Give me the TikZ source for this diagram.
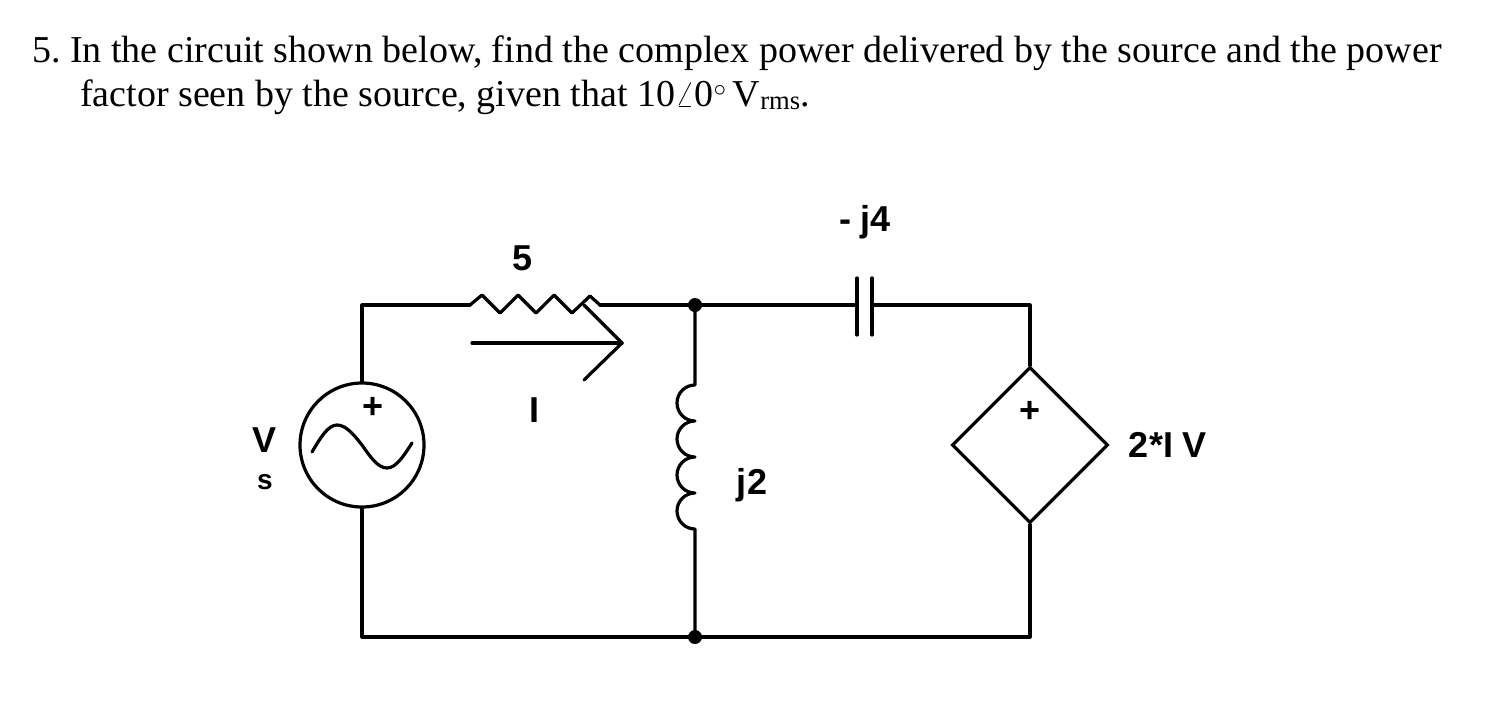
\documentclass[tikz,border=0pt]{standalone}
\usepackage{fontspec}
\usetikzlibrary{shapes.geometric}
\setmainfont{Liberation Serif}
\newfontfamily\lab{Liberation Sans}
\begin{document}
\begin{tikzpicture}[x=1pt,y=-1pt,
  w/.style={line width=3.2pt,line join=round,line cap=round},
  lbl/.style={font=\lab\bfseries\fontsize{36}{38}\selectfont,inner sep=0pt},
  ttl/.style={font=\fontsize{38}{42}\selectfont,inner sep=0pt,anchor=base west}]
\useasboundingbox (0,0) rectangle (1502,724);
\node[ttl] (t1) at (32,62) {5.\ In the circuit shown below, find the complex power delivered by the source and the power};
\node[ttl] (t2) at (80,106) {factor seen by the source, given that 10$\angle$0$^\circ$\,V$_{\mathrm{rms}}$.};
% coordinates
\coordinate (tl) at (362,305);
\coordinate (bl) at (362,637);
\coordinate (ra) at (470,305);
\coordinate (rb) at (600,305);
\coordinate (n1) at (695,305);
\coordinate (n2) at (695,637);
\coordinate (ca) at (857,305);
\coordinate (cb) at (872,305);
\coordinate (tr) at (1030,305);
\coordinate (br) at (1030,637);
\coordinate (la) at (695,385);
\coordinate (lb) at (695,529);
% source
\node[draw,circle,line width=3.2pt,minimum size=124pt,inner sep=0pt] (vs) at (362,445) {};
\draw[w] (312,452) sin (337,425) cos (362,445) sin (387,468) cos (412,443);
% dependent source
\node[draw,diamond,line width=3.2pt,minimum size=156pt,inner sep=0pt,aspect=1] (dep) at (1030,445) {};
% wires
\draw[w] (vs.north) -- (tl) -- (ra);
\draw[w] (ra) -- (482,295) -- (500,313) -- (518,295) -- (536,313) -- (554,295) -- (572,313) -- (590,296) -- (rb);
\draw[w] (rb) -- (n1) -- (ca);
\draw[w] (ca) ++(0,-27) -- ++(0,57);
\draw[w] (cb) ++(0,-27) -- ++(0,57);
\draw[w] (cb) -- (tr) -- (dep.north);
\draw[w] (dep.south) -- (br) -- (bl) -- (vs.south);
\draw[w] (n1) -- (la) arc(270:90:18) arc(270:90:18) arc(270:90:18) arc(270:90:18) -- (n2);
\fill (n1) circle (7);
\fill (n2) circle (7);
% current arrow
\draw[w] (472,343) -- (622,343);
\draw[w] (584,305) -- (622,343) -- (584,380);
% labels
\node[lbl] (l5) at (523,258) {5};
\node[lbl] (lj4) at (865,222) {- j4};
\node[lbl] (lI) at (534,410) {I};
\node[lbl] (lj2) at (752,485) {j2};
\node[lbl] (ldep) at (1168,445) {2*I V};
\node[lbl] (lp1) at (373,408) {+};
\node[lbl] (lp2) at (1030,412) {+};
\node[lbl] (lV) at (265,440) {V};
\node[lbl,font=\lab\bfseries\fontsize{28}{30}\selectfont] (ls) at (265,482) {s};
\end{tikzpicture}
\end{document}
